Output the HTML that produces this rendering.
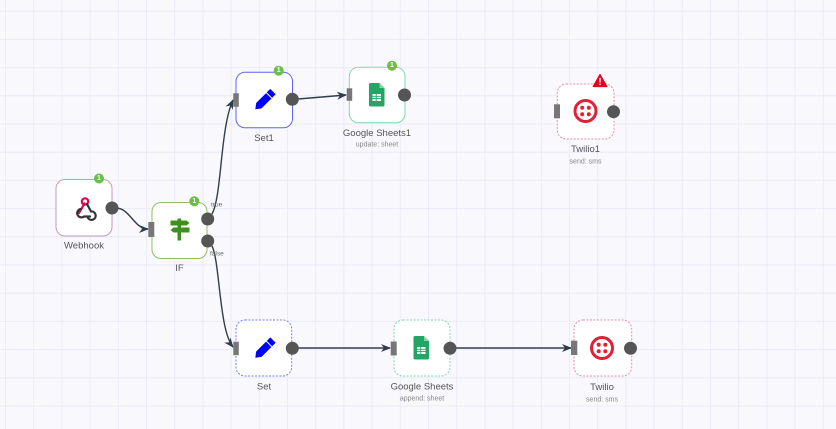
<!DOCTYPE html>
<html>
<head>
<meta charset="utf-8">
<style>
  html,body{margin:0;padding:0;width:836px;height:429px;overflow:hidden;background:#f8f8fd;}
  svg{display:block;}
  .lbl{font-family:"Liberation Sans",sans-serif;font-size:9.5px;fill:#555;text-anchor:middle;dominant-baseline:middle;}
  .sub{font-family:"Liberation Sans",sans-serif;font-size:7px;fill:#888;text-anchor:middle;dominant-baseline:middle;}
  .tiny{font-family:"Liberation Sans",sans-serif;font-size:6.5px;fill:#666;dominant-baseline:middle;}
  .badge{font-family:"Liberation Sans",sans-serif;font-size:7px;font-weight:bold;fill:#fff;text-anchor:middle;dominant-baseline:central;}
</style>
</head>
<body>
<svg width="836" height="429" viewBox="0 0 836 429" xmlns="http://www.w3.org/2000/svg">
  <defs>
    <pattern id="grid" x="5" y="10.7" width="28.2" height="28.2" patternUnits="userSpaceOnUse">
      <path d="M0.5,0 V28.2 M0,0.5 H28.2" stroke="#ebebf9" stroke-width="1" fill="none"/>
    </pattern>
    <marker id="arr" markerWidth="10" markerHeight="8" refX="9" refY="4" orient="auto" markerUnits="userSpaceOnUse">
      <path d="M0,0 L10,4 L0,8 L3,4 z" fill="#2f3a4a"/>
    </marker>
  </defs>
  <rect width="836" height="429" fill="#f8f8fd"/>
  <rect width="836" height="429" fill="url(#grid)"/>

  <!-- connectors -->
  <g fill="none" stroke="#333d4d" stroke-width="1.4">
    <path d="M116,208 C130,208 134,229 148,229" marker-end="url(#arr)"/>
    <path d="M212,214 C222,196 220,128 233,100" marker-end="url(#arr)"/>
    <path d="M212,246 C220,262 219,330 233,347" marker-end="url(#arr)"/>
    <path d="M298,99 L346,95" marker-end="url(#arr)"/>
    <path d="M298,348 L390,348" marker-end="url(#arr)"/>
    <path d="M456,348 L571,348" marker-end="url(#arr)"/>
  </g>

  <!-- Webhook -->
  <rect x="56" y="179.5" width="56" height="56.5" rx="9" fill="#fff" stroke="#c29abd" stroke-width="1"/>
  <g fill="none" stroke-width="2.2" stroke-linecap="round">
    <path d="M79,213 L84.5,203.5" stroke="#e5004f"/>
    <circle cx="85" cy="201.5" r="3.2" stroke="#e5004f"/>
    <path d="M81,209 A4.2,4.2 0 1 0 84,216.5 L90,216.5" stroke="#333"/>
    <path d="M87,204 L91,211.5 A4.2,4.2 0 1 1 88,218" stroke="#333"/>
  </g>
  <circle cx="112" cy="208" r="6.5" fill="#555"/>
  <circle cx="99" cy="178.5" r="5" fill="#6abf4b"/>
  <text class="badge" x="99" y="178.5">1</text>
  <text class="lbl" x="84" y="246">Webhook</text>

  <!-- IF -->
  <rect x="152" y="202.5" width="55" height="56" rx="9" fill="#fff" stroke="#8fc15e" stroke-width="1"/>
  <rect x="148.3" y="222" width="6" height="15" fill="#777"/>
  <g fill="#3f8f1f">
    <rect x="177.5" y="218.5" width="3.5" height="22"/>
    <polygon points="170.5,220.5 186.5,220.5 189.5,223 186.5,225.5 170.5,225.5"/>
    <polygon points="173.5,227.5 189.5,227.5 189.5,232.5 173.5,232.5 170.5,230"/>
  </g>
  <circle cx="207.7" cy="219" r="6.5" fill="#555"/>
  <circle cx="207.7" cy="241" r="6.5" fill="#555"/>
  <circle cx="194.3" cy="201.3" r="5" fill="#6abf4b"/>
  <text class="badge" x="194.3" y="201.3">1</text>
  <text class="tiny" x="211" y="205">true</text>
  <text class="tiny" x="210" y="254">false</text>
  <text class="lbl" x="179.5" y="268.5">IF</text>

  <!-- Set1 -->
  <rect x="236" y="72.3" width="56.5" height="55.5" rx="9" fill="#fff" stroke="#6161ff" stroke-width="1"/>
  <rect x="233.3" y="93.3" width="5.5" height="13.5" fill="#777"/>
  <g transform="translate(264.5,100) rotate(-45)">
    <polygon points="-13,0 -8,-3.8 6,-3.8 6,3.8 -8,3.8" fill="#0000ff"/>
    <rect x="7" y="-3.8" width="5" height="7.6" fill="#0000ff"/>
  </g>
  <circle cx="292.3" cy="99.3" r="6.5" fill="#555"/>
  <circle cx="278.7" cy="70.7" r="5" fill="#6abf4b"/>
  <text class="badge" x="278.7" y="70.7">1</text>
  <text class="lbl" x="264" y="138.5">Set1</text>

  <!-- Google Sheets1 -->
  <rect x="349.3" y="67.3" width="55.7" height="55.5" rx="9" fill="#fff" stroke="#80d7b0" stroke-width="1"/>
  <rect x="346.7" y="88.3" width="5.5" height="12.5" fill="#777"/>
  <g transform="translate(369,83)">
    <path d="M0,1.5 Q0,0 1.5,0 L10.5,0 L15.5,5 L15.5,22 Q15.5,23.5 14,23.5 L1.5,23.5 Q0,23.5 0,22 Z" fill="#23a566"/>
    <path d="M10.5,0 L10.5,5 L15.5,5 Z" fill="#8ed1b1"/>
    <rect x="3.5" y="11" width="8.5" height="7" fill="#fff"/>
    <path d="M3.5,13.3 H12 M3.5,15.6 H12 M7.2,11 V18" stroke="#23a566" stroke-width="0.9"/>
  </g>
  <circle cx="404.5" cy="95" r="6.5" fill="#555"/>
  <circle cx="392" cy="65.7" r="5" fill="#6abf4b"/>
  <text class="badge" x="392" y="65.7">1</text>
  <text class="lbl" x="377" y="133.5">Google Sheets1</text>
  <text class="sub" x="377" y="144.5">update: sheet</text>

  <!-- Twilio1 -->
  <rect x="557.3" y="84" width="56.7" height="55" rx="9" fill="#fff" stroke="#e8909e" stroke-width="1" stroke-dasharray="2,1.5"/>
  <rect x="554" y="104.3" width="6" height="14" fill="#777"/>
  <g transform="translate(585.5,111)">
    <circle r="10.5" fill="none" stroke="#e31e35" stroke-width="3"/>
    <circle cx="-3.3" cy="-3.3" r="2" fill="#e31e35"/>
    <circle cx="3.3" cy="-3.3" r="2" fill="#e31e35"/>
    <circle cx="-3.3" cy="3.3" r="2" fill="#e31e35"/>
    <circle cx="3.3" cy="3.3" r="2" fill="#e31e35"/>
  </g>
  <circle cx="613.5" cy="111.7" r="6.5" fill="#555"/>
  <polygon points="600,74.5 606.8,86.5 593.2,86.5" fill="#e8001c" stroke="#e8001c" stroke-width="1.2" stroke-linejoin="round"/>
  <rect x="599.3" y="77.8" width="1.4" height="4.8" fill="#fff"/>
  <rect x="599.3" y="83.6" width="1.4" height="1.4" fill="#fff"/>
  <text class="lbl" x="585.5" y="149.5">Twilio1</text>
  <text class="sub" x="585.5" y="161.5">send: sms</text>

  <!-- Set -->
  <rect x="236" y="320" width="55.7" height="56" rx="9" fill="#fff" stroke="#7b7bff" stroke-width="1" stroke-dasharray="2,1.5"/>
  <rect x="233.3" y="341.7" width="5.5" height="13.5" fill="#777"/>
  <g transform="translate(264.5,348.5) rotate(-45)">
    <polygon points="-13,0 -8,-3.8 6,-3.8 6,3.8 -8,3.8" fill="#0000ff"/>
    <rect x="7" y="-3.8" width="5" height="7.6" fill="#0000ff"/>
  </g>
  <circle cx="292.3" cy="348.3" r="6.5" fill="#555"/>
  <text class="lbl" x="264" y="387">Set</text>

  <!-- Google Sheets -->
  <rect x="394" y="320" width="56" height="56" rx="9" fill="#fff" stroke="#80d7b0" stroke-width="1" stroke-dasharray="2,1.5"/>
  <rect x="390.7" y="341.5" width="6" height="14" fill="#777"/>
  <g transform="translate(413.5,336)">
    <path d="M0,1.5 Q0,0 1.5,0 L10.5,0 L15.5,5 L15.5,22 Q15.5,23.5 14,23.5 L1.5,23.5 Q0,23.5 0,22 Z" fill="#23a566"/>
    <path d="M10.5,0 L10.5,5 L15.5,5 Z" fill="#8ed1b1"/>
    <rect x="3.5" y="11" width="8.5" height="7" fill="#fff"/>
    <path d="M3.5,13.3 H12 M3.5,15.6 H12 M7.2,11 V18" stroke="#23a566" stroke-width="0.9"/>
  </g>
  <circle cx="450" cy="348.3" r="6.5" fill="#555"/>
  <text class="lbl" x="422" y="387">Google Sheets</text>
  <text class="sub" x="422" y="398.5">append: sheet</text>

  <!-- Twilio -->
  <rect x="574" y="320" width="57.7" height="56" rx="9" fill="#fff" stroke="#e8909e" stroke-width="1" stroke-dasharray="2,1.5"/>
  <rect x="571" y="340.7" width="6.3" height="14.3" fill="#777"/>
  <g transform="translate(602,348)">
    <circle r="10.5" fill="none" stroke="#e31e35" stroke-width="3"/>
    <circle cx="-3.3" cy="-3.3" r="2" fill="#e31e35"/>
    <circle cx="3.3" cy="-3.3" r="2" fill="#e31e35"/>
    <circle cx="-3.3" cy="3.3" r="2" fill="#e31e35"/>
    <circle cx="3.3" cy="3.3" r="2" fill="#e31e35"/>
  </g>
  <circle cx="630.5" cy="348.3" r="6.5" fill="#555"/>
  <text class="lbl" x="602" y="387.5">Twilio</text>
  <text class="sub" x="602" y="399.5">send: sms</text>
</svg>
</body>
</html>
